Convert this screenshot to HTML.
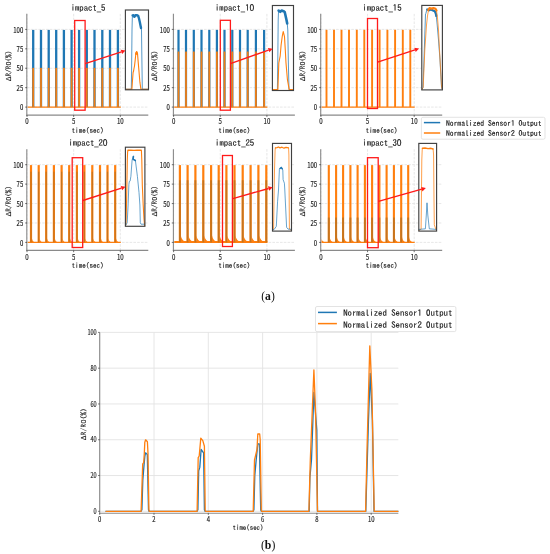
<!DOCTYPE html><html><head><meta charset="utf-8"><style>html,body{margin:0;padding:0;background:#fff;}svg{display:block}text{font-family:IPAGothic, 'Liberation Sans', sans-serif;}</style></head><body>
<svg width="550" height="554" viewBox="0 0 550 554">
<rect width="550" height="554" fill="#fff"/>
<line x1="27" x2="148.29" y1="107.1" y2="107.1" stroke="#e4e4e4" stroke-width="0.9" stroke-dasharray="2.6,1.2"/>
<line x1="27" x2="148.29" y1="87.67" y2="87.67" stroke="#e4e4e4" stroke-width="0.9" stroke-dasharray="2.6,1.2"/>
<line x1="27" x2="148.29" y1="68.25" y2="68.25" stroke="#e4e4e4" stroke-width="0.9" stroke-dasharray="2.6,1.2"/>
<line x1="27" x2="148.29" y1="48.82" y2="48.82" stroke="#e4e4e4" stroke-width="0.9" stroke-dasharray="2.6,1.2"/>
<line x1="27" x2="148.29" y1="29.4" y2="29.4" stroke="#e4e4e4" stroke-width="0.9" stroke-dasharray="2.6,1.2"/>
<line x1="27" x2="27" y1="13.86" y2="115.1" stroke="#e4e4e4" stroke-width="0.9" stroke-dasharray="2.6,1.2"/>
<line x1="73.65" x2="73.65" y1="13.86" y2="115.1" stroke="#e4e4e4" stroke-width="0.9" stroke-dasharray="2.6,1.2"/>
<line x1="120.3" x2="120.3" y1="13.86" y2="115.1" stroke="#e4e4e4" stroke-width="0.9" stroke-dasharray="2.6,1.2"/>
<line x1="27.65" x2="120.77" y1="107.1" y2="107.1" stroke="#ff7f0e" stroke-width="1.4"/>
<rect x="32.05" y="29.9" width="2.3" height="77.2" fill="#1f77b4"/>
<rect x="32.3" y="67.87" width="1.8" height="39.23" fill="#f07e14"/>
<rect x="39.85" y="29.9" width="2.3" height="77.2" fill="#1f77b4"/>
<rect x="40.1" y="67.87" width="1.8" height="39.23" fill="#f07e14"/>
<rect x="47.55" y="29.9" width="2.3" height="77.2" fill="#1f77b4"/>
<rect x="47.8" y="67.87" width="1.8" height="39.23" fill="#f07e14"/>
<rect x="55.05" y="29.9" width="2.3" height="77.2" fill="#1f77b4"/>
<rect x="55.3" y="67.87" width="1.8" height="39.23" fill="#f07e14"/>
<rect x="62.75" y="29.9" width="2.3" height="77.2" fill="#1f77b4"/>
<rect x="63" y="67.87" width="1.8" height="39.23" fill="#f07e14"/>
<rect x="70.45" y="29.9" width="2.3" height="77.2" fill="#1f77b4"/>
<rect x="70.7" y="67.87" width="1.8" height="39.23" fill="#f07e14"/>
<rect x="77.95" y="29.9" width="2.3" height="77.2" fill="#1f77b4"/>
<rect x="78.2" y="67.87" width="1.8" height="39.23" fill="#f07e14"/>
<rect x="85.65" y="29.9" width="2.3" height="77.2" fill="#1f77b4"/>
<rect x="85.9" y="67.87" width="1.8" height="39.23" fill="#f07e14"/>
<rect x="93.35" y="29.9" width="2.3" height="77.2" fill="#1f77b4"/>
<rect x="93.6" y="67.87" width="1.8" height="39.23" fill="#f07e14"/>
<rect x="101.15" y="29.9" width="2.3" height="77.2" fill="#1f77b4"/>
<rect x="101.4" y="67.87" width="1.8" height="39.23" fill="#f07e14"/>
<rect x="108.85" y="29.9" width="2.3" height="77.2" fill="#1f77b4"/>
<rect x="109.1" y="67.87" width="1.8" height="39.23" fill="#f07e14"/>
<rect x="116.75" y="29.9" width="2.3" height="77.2" fill="#1f77b4"/>
<rect x="117" y="67.87" width="1.8" height="39.23" fill="#f07e14"/>
<line x1="26.8" x2="26.8" y1="13.86" y2="115.65" stroke="#8a8a8a" stroke-width="1.1"/>
<line x1="26.25" x2="148.29" y1="115.1" y2="115.1" stroke="#8a8a8a" stroke-width="1.1"/>
<line x1="25.2" x2="27" y1="107.1" y2="107.1" stroke="#333" stroke-width="0.7"/>
<text x="23.3" y="110.2" font-size="8.1" text-anchor="end" textLength="3.35" lengthAdjust="spacingAndGlyphs" style="font-family:'Noto Sans CJK SC',sans-serif" stroke="#1a1a1a" stroke-width="0.15" fill="#1a1a1a">0</text>
<line x1="25.2" x2="27" y1="87.67" y2="87.67" stroke="#333" stroke-width="0.7"/>
<text x="23.3" y="90.77" font-size="8.1" text-anchor="end" textLength="6.7" lengthAdjust="spacingAndGlyphs" style="font-family:'Noto Sans CJK SC',sans-serif" stroke="#1a1a1a" stroke-width="0.15" fill="#1a1a1a">25</text>
<line x1="25.2" x2="27" y1="68.25" y2="68.25" stroke="#333" stroke-width="0.7"/>
<text x="23.3" y="71.35" font-size="8.1" text-anchor="end" textLength="6.7" lengthAdjust="spacingAndGlyphs" style="font-family:'Noto Sans CJK SC',sans-serif" stroke="#1a1a1a" stroke-width="0.15" fill="#1a1a1a">50</text>
<line x1="25.2" x2="27" y1="48.82" y2="48.82" stroke="#333" stroke-width="0.7"/>
<text x="23.3" y="51.92" font-size="8.1" text-anchor="end" textLength="6.7" lengthAdjust="spacingAndGlyphs" style="font-family:'Noto Sans CJK SC',sans-serif" stroke="#1a1a1a" stroke-width="0.15" fill="#1a1a1a">75</text>
<line x1="25.2" x2="27" y1="29.4" y2="29.4" stroke="#333" stroke-width="0.7"/>
<text x="23.3" y="32.5" font-size="8.1" text-anchor="end" textLength="10.05" lengthAdjust="spacingAndGlyphs" style="font-family:'Noto Sans CJK SC',sans-serif" stroke="#1a1a1a" stroke-width="0.15" fill="#1a1a1a">100</text>
<line x1="27" x2="27" y1="115.1" y2="116.9" stroke="#333" stroke-width="0.7"/>
<text x="27" y="124.3" font-size="8.1" text-anchor="middle" textLength="3.4" lengthAdjust="spacingAndGlyphs" style="font-family:'Noto Sans CJK SC',sans-serif" stroke="#1a1a1a" stroke-width="0.15" fill="#1a1a1a">0</text>
<line x1="73.65" x2="73.65" y1="115.1" y2="116.9" stroke="#333" stroke-width="0.7"/>
<text x="73.65" y="124.3" font-size="8.1" text-anchor="middle" textLength="3.4" lengthAdjust="spacingAndGlyphs" style="font-family:'Noto Sans CJK SC',sans-serif" stroke="#1a1a1a" stroke-width="0.15" fill="#1a1a1a">5</text>
<line x1="120.3" x2="120.3" y1="115.1" y2="116.9" stroke="#333" stroke-width="0.7"/>
<text x="120.3" y="124.3" font-size="8.1" text-anchor="middle" textLength="6.8" lengthAdjust="spacingAndGlyphs" style="font-family:'Noto Sans CJK SC',sans-serif" stroke="#1a1a1a" stroke-width="0.15" fill="#1a1a1a">10</text>
<text x="87.65" y="132.6" font-size="7.1" text-anchor="middle" textLength="32.2" lengthAdjust="spacingAndGlyphs" stroke="#1a1a1a" stroke-width="0.15" fill="#1a1a1a">time(sec)</text>
<text x="0" y="0" font-size="7.2" text-anchor="middle" textLength="30.5" lengthAdjust="spacing" transform="translate(10.8,65.98) rotate(-90)" stroke="#1a1a1a" stroke-width="0.15" fill="#1a1a1a"><tspan style="font-family:'Liberation Sans',sans-serif">Δ</tspan>R/R<tspan style="font-family:'Liberation Sans',sans-serif">0</tspan>(%)</text>
<text x="88.05" y="10.86" font-size="8.8" text-anchor="middle" textLength="34.8" lengthAdjust="spacingAndGlyphs" stroke="#111" stroke-width="0.15" fill="#111">impact_5</text>
<rect x="74.7" y="20.5" width="10.4" height="89.7" fill="none" stroke="#ff1a1a" stroke-width="1.3"/>
<rect x="125.4" y="10" width="23.1" height="79.8" fill="#fff"/>
<polyline fill="none" stroke="#1f77b4" stroke-width="1.0" stroke-opacity="0.75" stroke-linejoin="round" stroke-linecap="round" points="125.6,89.2 131.3,89.2 131.6,70 132,30 132.3,18 132.6,15.5"/>
<polyline fill="none" stroke="#1f77b4" stroke-width="2.4" stroke-linejoin="round" stroke-linecap="round" points="132.6,15.4 133.4,15.2 134.4,16.8 135.4,15.3 136.8,15.2 138.2,15.8 139,18.5 139.8,22 140.5,25.5 141,28"/>
<polyline fill="none" stroke="#1f77b4" stroke-width="1.0" stroke-opacity="0.75" stroke-linejoin="round" stroke-linecap="round" points="141,27 141.5,30 141.9,60 142.3,89.2 148.3,89.2"/>
<polyline fill="none" stroke="#ff7f0e" stroke-width="1.1" stroke-linejoin="round" stroke-linecap="round" points="125.6,89.2 131.9,89.2 132.3,83 133.1,72.5 133.6,71 133.9,69 134.5,66 135.2,60 135.9,53 136.7,51.5 137.5,53.6 138.7,67.9 139.9,82.2 140.9,89.2 148.3,89.2"/>
<polyline fill="none" stroke="#ff7f0e" stroke-width="1.8" stroke-linejoin="round" stroke-linecap="round" points="135.9,54 136.6,52.3 137.2,54"/>
<rect x="125.4" y="10" width="23.1" height="79.8" fill="none" stroke="#404040" stroke-width="1.15"/>
<line x1="85.2" y1="63.6" x2="121.41" y2="51.83" stroke="#ff1a1a" stroke-width="1.4"/>
<polygon fill="#ff1a1a" points="125.5,50.5 122.12,54.02 120.7,49.64"/>
<line x1="173.6" x2="294.89" y1="107.1" y2="107.1" stroke="#e4e4e4" stroke-width="0.9" stroke-dasharray="2.6,1.2"/>
<line x1="173.6" x2="294.89" y1="87.67" y2="87.67" stroke="#e4e4e4" stroke-width="0.9" stroke-dasharray="2.6,1.2"/>
<line x1="173.6" x2="294.89" y1="68.25" y2="68.25" stroke="#e4e4e4" stroke-width="0.9" stroke-dasharray="2.6,1.2"/>
<line x1="173.6" x2="294.89" y1="48.82" y2="48.82" stroke="#e4e4e4" stroke-width="0.9" stroke-dasharray="2.6,1.2"/>
<line x1="173.6" x2="294.89" y1="29.4" y2="29.4" stroke="#e4e4e4" stroke-width="0.9" stroke-dasharray="2.6,1.2"/>
<line x1="173.6" x2="173.6" y1="13.86" y2="115.1" stroke="#e4e4e4" stroke-width="0.9" stroke-dasharray="2.6,1.2"/>
<line x1="220.25" x2="220.25" y1="13.86" y2="115.1" stroke="#e4e4e4" stroke-width="0.9" stroke-dasharray="2.6,1.2"/>
<line x1="266.9" x2="266.9" y1="13.86" y2="115.1" stroke="#e4e4e4" stroke-width="0.9" stroke-dasharray="2.6,1.2"/>
<line x1="174.25" x2="267.37" y1="107.1" y2="107.1" stroke="#ff7f0e" stroke-width="1.4"/>
<rect x="177.4" y="29.9" width="2.2" height="77.2" fill="#1f77b4"/>
<rect x="177.6" y="51.56" width="1.8" height="55.54" fill="#f07e14"/>
<rect x="184.9" y="29.9" width="2.2" height="77.2" fill="#1f77b4"/>
<rect x="185.1" y="51.56" width="1.8" height="55.54" fill="#f07e14"/>
<rect x="192.7" y="29.9" width="2.2" height="77.2" fill="#1f77b4"/>
<rect x="192.9" y="51.56" width="1.8" height="55.54" fill="#f07e14"/>
<rect x="200.4" y="29.9" width="2.2" height="77.2" fill="#1f77b4"/>
<rect x="200.6" y="51.56" width="1.8" height="55.54" fill="#f07e14"/>
<rect x="208.2" y="29.9" width="2.2" height="77.2" fill="#1f77b4"/>
<rect x="208.4" y="51.56" width="1.8" height="55.54" fill="#f07e14"/>
<rect x="215.8" y="29.9" width="2.2" height="77.2" fill="#1f77b4"/>
<rect x="216" y="51.56" width="1.8" height="55.54" fill="#f07e14"/>
<rect x="223.4" y="29.9" width="2.2" height="77.2" fill="#1f77b4"/>
<rect x="223.6" y="51.56" width="1.8" height="55.54" fill="#f07e14"/>
<rect x="231.2" y="29.9" width="2.2" height="77.2" fill="#1f77b4"/>
<rect x="231.4" y="51.56" width="1.8" height="55.54" fill="#f07e14"/>
<rect x="238.9" y="29.9" width="2.2" height="77.2" fill="#1f77b4"/>
<rect x="239.1" y="51.56" width="1.8" height="55.54" fill="#f07e14"/>
<rect x="246.6" y="29.9" width="2.2" height="77.2" fill="#1f77b4"/>
<rect x="246.8" y="51.56" width="1.8" height="55.54" fill="#f07e14"/>
<rect x="254.8" y="29.9" width="2.2" height="77.2" fill="#1f77b4"/>
<rect x="255" y="51.56" width="1.8" height="55.54" fill="#f07e14"/>
<rect x="263" y="29.9" width="2.2" height="77.2" fill="#1f77b4"/>
<rect x="263.2" y="51.56" width="1.8" height="55.54" fill="#f07e14"/>
<line x1="173.4" x2="173.4" y1="13.86" y2="115.65" stroke="#8a8a8a" stroke-width="1.1"/>
<line x1="172.85" x2="294.89" y1="115.1" y2="115.1" stroke="#8a8a8a" stroke-width="1.1"/>
<line x1="171.8" x2="173.6" y1="107.1" y2="107.1" stroke="#333" stroke-width="0.7"/>
<text x="169.9" y="110.2" font-size="8.1" text-anchor="end" textLength="3.35" lengthAdjust="spacingAndGlyphs" style="font-family:'Noto Sans CJK SC',sans-serif" stroke="#1a1a1a" stroke-width="0.15" fill="#1a1a1a">0</text>
<line x1="171.8" x2="173.6" y1="87.67" y2="87.67" stroke="#333" stroke-width="0.7"/>
<text x="169.9" y="90.77" font-size="8.1" text-anchor="end" textLength="6.7" lengthAdjust="spacingAndGlyphs" style="font-family:'Noto Sans CJK SC',sans-serif" stroke="#1a1a1a" stroke-width="0.15" fill="#1a1a1a">25</text>
<line x1="171.8" x2="173.6" y1="68.25" y2="68.25" stroke="#333" stroke-width="0.7"/>
<text x="169.9" y="71.35" font-size="8.1" text-anchor="end" textLength="6.7" lengthAdjust="spacingAndGlyphs" style="font-family:'Noto Sans CJK SC',sans-serif" stroke="#1a1a1a" stroke-width="0.15" fill="#1a1a1a">50</text>
<line x1="171.8" x2="173.6" y1="48.82" y2="48.82" stroke="#333" stroke-width="0.7"/>
<text x="169.9" y="51.92" font-size="8.1" text-anchor="end" textLength="6.7" lengthAdjust="spacingAndGlyphs" style="font-family:'Noto Sans CJK SC',sans-serif" stroke="#1a1a1a" stroke-width="0.15" fill="#1a1a1a">75</text>
<line x1="171.8" x2="173.6" y1="29.4" y2="29.4" stroke="#333" stroke-width="0.7"/>
<text x="169.9" y="32.5" font-size="8.1" text-anchor="end" textLength="10.05" lengthAdjust="spacingAndGlyphs" style="font-family:'Noto Sans CJK SC',sans-serif" stroke="#1a1a1a" stroke-width="0.15" fill="#1a1a1a">100</text>
<line x1="173.6" x2="173.6" y1="115.1" y2="116.9" stroke="#333" stroke-width="0.7"/>
<text x="173.6" y="124.3" font-size="8.1" text-anchor="middle" textLength="3.4" lengthAdjust="spacingAndGlyphs" style="font-family:'Noto Sans CJK SC',sans-serif" stroke="#1a1a1a" stroke-width="0.15" fill="#1a1a1a">0</text>
<line x1="220.25" x2="220.25" y1="115.1" y2="116.9" stroke="#333" stroke-width="0.7"/>
<text x="220.25" y="124.3" font-size="8.1" text-anchor="middle" textLength="3.4" lengthAdjust="spacingAndGlyphs" style="font-family:'Noto Sans CJK SC',sans-serif" stroke="#1a1a1a" stroke-width="0.15" fill="#1a1a1a">5</text>
<line x1="266.9" x2="266.9" y1="115.1" y2="116.9" stroke="#333" stroke-width="0.7"/>
<text x="266.9" y="124.3" font-size="8.1" text-anchor="middle" textLength="6.8" lengthAdjust="spacingAndGlyphs" style="font-family:'Noto Sans CJK SC',sans-serif" stroke="#1a1a1a" stroke-width="0.15" fill="#1a1a1a">10</text>
<text x="234.25" y="132.6" font-size="7.1" text-anchor="middle" textLength="32.2" lengthAdjust="spacingAndGlyphs" stroke="#1a1a1a" stroke-width="0.15" fill="#1a1a1a">time(sec)</text>
<text x="0" y="0" font-size="7.2" text-anchor="middle" textLength="30.5" lengthAdjust="spacing" transform="translate(157.4,65.98) rotate(-90)" stroke="#1a1a1a" stroke-width="0.15" fill="#1a1a1a"><tspan style="font-family:'Liberation Sans',sans-serif">Δ</tspan>R/R<tspan style="font-family:'Liberation Sans',sans-serif">0</tspan>(%)</text>
<text x="234.65" y="10.86" font-size="8.8" text-anchor="middle" textLength="39.15" lengthAdjust="spacingAndGlyphs" stroke="#111" stroke-width="0.15" fill="#111">impact_1<tspan style="font-family:'Noto Sans CJK SC',sans-serif">0</tspan></text>
<rect x="220.3" y="20.3" width="10.1" height="89.9" fill="none" stroke="#ff1a1a" stroke-width="1.3"/>
<rect x="272.4" y="5.5" width="21.1" height="85" fill="#fff"/>
<polyline fill="none" stroke="#1f77b4" stroke-width="1.0" stroke-opacity="0.75" stroke-linejoin="round" stroke-linecap="round" points="272.6,89.6 277.4,89.6 277.8,60 278.2,20 278.5,12"/>
<polyline fill="none" stroke="#1f77b4" stroke-width="2.6" stroke-linejoin="round" stroke-linecap="round" points="278.6,10.6 280.2,11.8 281.7,10.6 283.5,11.2 284.7,12 285.5,15.5 286.4,19.5 287.2,23.5"/>
<polyline fill="none" stroke="#1f77b4" stroke-width="1.0" stroke-opacity="0.75" stroke-linejoin="round" stroke-linecap="round" points="287.2,23 287.8,30 288.3,60 289,89.6 293.3,89.6"/>
<polyline fill="none" stroke="#ff7f0e" stroke-width="1.1" stroke-linejoin="round" stroke-linecap="round" points="272.6,89.6 277.9,89.6 278.8,63 280.2,55.8 281.1,45 282.3,36 283.2,31.5 284.5,36.7 285.3,50 286,63 287.4,79.3 289.2,89.6 293.3,89.6"/>
<rect x="272.4" y="5.5" width="21.1" height="85" fill="none" stroke="#404040" stroke-width="1.15"/>
<line x1="230.4" y1="63.6" x2="268.64" y2="50.13" stroke="#ff1a1a" stroke-width="1.4"/>
<polygon fill="#ff1a1a" points="272.7,48.7 269.41,52.3 267.88,47.96"/>
<line x1="320.9" x2="442.19" y1="107.1" y2="107.1" stroke="#e4e4e4" stroke-width="0.9" stroke-dasharray="2.6,1.2"/>
<line x1="320.9" x2="442.19" y1="87.67" y2="87.67" stroke="#e4e4e4" stroke-width="0.9" stroke-dasharray="2.6,1.2"/>
<line x1="320.9" x2="442.19" y1="68.25" y2="68.25" stroke="#e4e4e4" stroke-width="0.9" stroke-dasharray="2.6,1.2"/>
<line x1="320.9" x2="442.19" y1="48.82" y2="48.82" stroke="#e4e4e4" stroke-width="0.9" stroke-dasharray="2.6,1.2"/>
<line x1="320.9" x2="442.19" y1="29.4" y2="29.4" stroke="#e4e4e4" stroke-width="0.9" stroke-dasharray="2.6,1.2"/>
<line x1="320.9" x2="320.9" y1="13.86" y2="115.1" stroke="#e4e4e4" stroke-width="0.9" stroke-dasharray="2.6,1.2"/>
<line x1="367.55" x2="367.55" y1="13.86" y2="115.1" stroke="#e4e4e4" stroke-width="0.9" stroke-dasharray="2.6,1.2"/>
<line x1="414.2" x2="414.2" y1="13.86" y2="115.1" stroke="#e4e4e4" stroke-width="0.9" stroke-dasharray="2.6,1.2"/>
<line x1="321.55" x2="414.67" y1="107.1" y2="107.1" stroke="#ff7f0e" stroke-width="1.4"/>
<rect x="325.55" y="29.8" width="1.9" height="77.3" fill="#ff7f0e"/>
<rect x="333.05" y="29.8" width="1.9" height="77.3" fill="#ff7f0e"/>
<rect x="340.55" y="29.8" width="1.9" height="77.3" fill="#ff7f0e"/>
<rect x="348.05" y="29.8" width="1.9" height="77.3" fill="#ff7f0e"/>
<rect x="355.85" y="29.8" width="1.9" height="77.3" fill="#ff7f0e"/>
<rect x="363.35" y="29.8" width="1.9" height="77.3" fill="#ff7f0e"/>
<rect x="371.15" y="29.8" width="1.9" height="77.3" fill="#ff7f0e"/>
<rect x="378.65" y="29.8" width="1.9" height="77.3" fill="#ff7f0e"/>
<rect x="386.45" y="29.8" width="1.9" height="77.3" fill="#ff7f0e"/>
<rect x="394.15" y="29.8" width="1.9" height="77.3" fill="#ff7f0e"/>
<rect x="401.85" y="29.8" width="1.9" height="77.3" fill="#ff7f0e"/>
<rect x="409.35" y="29.8" width="1.9" height="77.3" fill="#ff7f0e"/>
<line x1="320.7" x2="320.7" y1="13.86" y2="115.65" stroke="#8a8a8a" stroke-width="1.1"/>
<line x1="320.15" x2="442.19" y1="115.1" y2="115.1" stroke="#8a8a8a" stroke-width="1.1"/>
<line x1="319.1" x2="320.9" y1="107.1" y2="107.1" stroke="#333" stroke-width="0.7"/>
<text x="317.2" y="110.2" font-size="8.1" text-anchor="end" textLength="3.35" lengthAdjust="spacingAndGlyphs" style="font-family:'Noto Sans CJK SC',sans-serif" stroke="#1a1a1a" stroke-width="0.15" fill="#1a1a1a">0</text>
<line x1="319.1" x2="320.9" y1="87.67" y2="87.67" stroke="#333" stroke-width="0.7"/>
<text x="317.2" y="90.77" font-size="8.1" text-anchor="end" textLength="6.7" lengthAdjust="spacingAndGlyphs" style="font-family:'Noto Sans CJK SC',sans-serif" stroke="#1a1a1a" stroke-width="0.15" fill="#1a1a1a">25</text>
<line x1="319.1" x2="320.9" y1="68.25" y2="68.25" stroke="#333" stroke-width="0.7"/>
<text x="317.2" y="71.35" font-size="8.1" text-anchor="end" textLength="6.7" lengthAdjust="spacingAndGlyphs" style="font-family:'Noto Sans CJK SC',sans-serif" stroke="#1a1a1a" stroke-width="0.15" fill="#1a1a1a">50</text>
<line x1="319.1" x2="320.9" y1="48.82" y2="48.82" stroke="#333" stroke-width="0.7"/>
<text x="317.2" y="51.92" font-size="8.1" text-anchor="end" textLength="6.7" lengthAdjust="spacingAndGlyphs" style="font-family:'Noto Sans CJK SC',sans-serif" stroke="#1a1a1a" stroke-width="0.15" fill="#1a1a1a">75</text>
<line x1="319.1" x2="320.9" y1="29.4" y2="29.4" stroke="#333" stroke-width="0.7"/>
<text x="317.2" y="32.5" font-size="8.1" text-anchor="end" textLength="10.05" lengthAdjust="spacingAndGlyphs" style="font-family:'Noto Sans CJK SC',sans-serif" stroke="#1a1a1a" stroke-width="0.15" fill="#1a1a1a">100</text>
<line x1="320.9" x2="320.9" y1="115.1" y2="116.9" stroke="#333" stroke-width="0.7"/>
<text x="320.9" y="124.3" font-size="8.1" text-anchor="middle" textLength="3.4" lengthAdjust="spacingAndGlyphs" style="font-family:'Noto Sans CJK SC',sans-serif" stroke="#1a1a1a" stroke-width="0.15" fill="#1a1a1a">0</text>
<line x1="367.55" x2="367.55" y1="115.1" y2="116.9" stroke="#333" stroke-width="0.7"/>
<text x="367.55" y="124.3" font-size="8.1" text-anchor="middle" textLength="3.4" lengthAdjust="spacingAndGlyphs" style="font-family:'Noto Sans CJK SC',sans-serif" stroke="#1a1a1a" stroke-width="0.15" fill="#1a1a1a">5</text>
<line x1="414.2" x2="414.2" y1="115.1" y2="116.9" stroke="#333" stroke-width="0.7"/>
<text x="414.2" y="124.3" font-size="8.1" text-anchor="middle" textLength="6.8" lengthAdjust="spacingAndGlyphs" style="font-family:'Noto Sans CJK SC',sans-serif" stroke="#1a1a1a" stroke-width="0.15" fill="#1a1a1a">10</text>
<text x="381.54" y="132.6" font-size="7.1" text-anchor="middle" textLength="32.2" lengthAdjust="spacingAndGlyphs" stroke="#1a1a1a" stroke-width="0.15" fill="#1a1a1a">time(sec)</text>
<text x="0" y="0" font-size="7.2" text-anchor="middle" textLength="30.5" lengthAdjust="spacing" transform="translate(304.7,65.98) rotate(-90)" stroke="#1a1a1a" stroke-width="0.15" fill="#1a1a1a"><tspan style="font-family:'Liberation Sans',sans-serif">Δ</tspan>R/R<tspan style="font-family:'Liberation Sans',sans-serif">0</tspan>(%)</text>
<text x="381.94" y="10.86" font-size="8.8" text-anchor="middle" textLength="39.15" lengthAdjust="spacingAndGlyphs" stroke="#111" stroke-width="0.15" fill="#111">impact_15</text>
<rect x="367.5" y="18.5" width="10" height="90" fill="none" stroke="#ff1a1a" stroke-width="1.3"/>
<rect x="421.8" y="5.4" width="20.6" height="84.5" fill="#fff"/>
<polyline fill="none" stroke="#1f77b4" stroke-width="1.0" stroke-opacity="0.75" stroke-linejoin="round" stroke-linecap="round" points="422.2,89.2 423,87.3 424.3,50 425.3,20 425.5,14 425.9,13.4 426.5,11 427.2,9.5"/>
<polyline fill="none" stroke="#1f77b4" stroke-width="2.2" stroke-linejoin="round" stroke-linecap="round" points="427.2,9.4 429,10.3 431,9.4 433,10.4 434.8,11.2 435.8,13.5 436.3,16"/>
<polyline fill="none" stroke="#1f77b4" stroke-width="1.0" stroke-opacity="0.75" stroke-linejoin="round" stroke-linecap="round" points="436.3,16 437.2,25 438.5,40 440,60 441.5,87.3 442.2,89.2"/>
<polyline fill="none" stroke="#ff7f0e" stroke-width="1.0" stroke-opacity="0.75" stroke-linejoin="round" stroke-linecap="round" points="422.2,89.2 423.2,87.3 424.8,50 426.5,25 427.5,16 428.4,10.5"/>
<polyline fill="none" stroke="#ff7f0e" stroke-width="2.2" stroke-linejoin="round" stroke-linecap="round" points="428.3,10 429.5,8.2 431.5,8.6 433.5,8.1 435.5,8.8 436.5,10.5"/>
<polyline fill="none" stroke="#ff7f0e" stroke-width="1.0" stroke-opacity="0.75" stroke-linejoin="round" stroke-linecap="round" points="436.5,10.5 437.5,18 438.5,30 439.5,50 441.6,87.3 442.2,89.2"/>
<rect x="421.8" y="5.4" width="20.6" height="84.5" fill="none" stroke="#404040" stroke-width="1.15"/>
<line x1="377.6" y1="62.2" x2="415.01" y2="49.94" stroke="#ff1a1a" stroke-width="1.4"/>
<polygon fill="#ff1a1a" points="419.1,48.6 415.73,52.12 414.3,47.75"/>
<line x1="27" x2="148.29" y1="242.4" y2="242.4" stroke="#e4e4e4" stroke-width="0.9" stroke-dasharray="2.6,1.2"/>
<line x1="27" x2="148.29" y1="222.97" y2="222.97" stroke="#e4e4e4" stroke-width="0.9" stroke-dasharray="2.6,1.2"/>
<line x1="27" x2="148.29" y1="203.55" y2="203.55" stroke="#e4e4e4" stroke-width="0.9" stroke-dasharray="2.6,1.2"/>
<line x1="27" x2="148.29" y1="184.12" y2="184.12" stroke="#e4e4e4" stroke-width="0.9" stroke-dasharray="2.6,1.2"/>
<line x1="27" x2="148.29" y1="164.7" y2="164.7" stroke="#e4e4e4" stroke-width="0.9" stroke-dasharray="2.6,1.2"/>
<line x1="27" x2="27" y1="149.16" y2="250.4" stroke="#e4e4e4" stroke-width="0.9" stroke-dasharray="2.6,1.2"/>
<line x1="73.65" x2="73.65" y1="149.16" y2="250.4" stroke="#e4e4e4" stroke-width="0.9" stroke-dasharray="2.6,1.2"/>
<line x1="120.3" x2="120.3" y1="149.16" y2="250.4" stroke="#e4e4e4" stroke-width="0.9" stroke-dasharray="2.6,1.2"/>
<line x1="27.65" x2="120.77" y1="242.4" y2="242.4" stroke="#ff7f0e" stroke-width="1.4"/>
<path d="M31.9,238.6 Q32.32,241.83 34.7,242.4 L31.9,242.4 Z" fill="#ff7f0e"/>
<rect x="29.9" y="165.1" width="2.2" height="77.3" fill="#ff7f0e"/>
<rect x="30.4" y="171.69" width="1.2" height="70.71" fill="#c4741f"/>
<path d="M39.6,238.6 Q40.02,241.83 42.4,242.4 L39.6,242.4 Z" fill="#ff7f0e"/>
<rect x="37.6" y="165.1" width="2.2" height="77.3" fill="#ff7f0e"/>
<rect x="38.1" y="171.69" width="1.2" height="70.71" fill="#c4741f"/>
<path d="M47.1,238.6 Q47.52,241.83 49.9,242.4 L47.1,242.4 Z" fill="#ff7f0e"/>
<rect x="45.1" y="165.1" width="2.2" height="77.3" fill="#ff7f0e"/>
<rect x="45.6" y="171.69" width="1.2" height="70.71" fill="#c4741f"/>
<path d="M54.8,238.6 Q55.22,241.83 57.6,242.4 L54.8,242.4 Z" fill="#ff7f0e"/>
<rect x="52.8" y="165.1" width="2.2" height="77.3" fill="#ff7f0e"/>
<rect x="53.3" y="171.69" width="1.2" height="70.71" fill="#c4741f"/>
<path d="M62.5,238.6 Q62.92,241.83 65.3,242.4 L62.5,242.4 Z" fill="#ff7f0e"/>
<rect x="60.5" y="165.1" width="2.2" height="77.3" fill="#ff7f0e"/>
<rect x="61" y="171.69" width="1.2" height="70.71" fill="#c4741f"/>
<path d="M70.1,238.6 Q70.52,241.83 72.9,242.4 L70.1,242.4 Z" fill="#ff7f0e"/>
<rect x="68.1" y="165.1" width="2.2" height="77.3" fill="#ff7f0e"/>
<rect x="68.6" y="171.69" width="1.2" height="70.71" fill="#c4741f"/>
<path d="M77.8,238.6 Q78.22,241.83 80.6,242.4 L77.8,242.4 Z" fill="#ff7f0e"/>
<rect x="75.8" y="165.1" width="2.2" height="77.3" fill="#ff7f0e"/>
<rect x="76.3" y="171.69" width="1.2" height="70.71" fill="#c4741f"/>
<path d="M85.3,238.6 Q85.72,241.83 88.1,242.4 L85.3,242.4 Z" fill="#ff7f0e"/>
<rect x="83.3" y="165.1" width="2.2" height="77.3" fill="#ff7f0e"/>
<rect x="83.8" y="171.69" width="1.2" height="70.71" fill="#c4741f"/>
<path d="M93.2,238.6 Q93.62,241.83 96,242.4 L93.2,242.4 Z" fill="#ff7f0e"/>
<rect x="91.2" y="165.1" width="2.2" height="77.3" fill="#ff7f0e"/>
<rect x="91.7" y="171.69" width="1.2" height="70.71" fill="#c4741f"/>
<path d="M100.9,238.6 Q101.32,241.83 103.7,242.4 L100.9,242.4 Z" fill="#ff7f0e"/>
<rect x="98.9" y="165.1" width="2.2" height="77.3" fill="#ff7f0e"/>
<rect x="99.4" y="171.69" width="1.2" height="70.71" fill="#c4741f"/>
<path d="M108.4,238.6 Q108.82,241.83 111.2,242.4 L108.4,242.4 Z" fill="#ff7f0e"/>
<rect x="106.4" y="165.1" width="2.2" height="77.3" fill="#ff7f0e"/>
<rect x="106.9" y="171.69" width="1.2" height="70.71" fill="#c4741f"/>
<path d="M116.1,238.6 Q116.52,241.83 118.9,242.4 L116.1,242.4 Z" fill="#ff7f0e"/>
<rect x="114.1" y="165.1" width="2.2" height="77.3" fill="#ff7f0e"/>
<rect x="114.6" y="171.69" width="1.2" height="70.71" fill="#c4741f"/>
<line x1="26.8" x2="26.8" y1="149.16" y2="250.95" stroke="#8a8a8a" stroke-width="1.1"/>
<line x1="26.25" x2="148.29" y1="250.4" y2="250.4" stroke="#8a8a8a" stroke-width="1.1"/>
<line x1="25.2" x2="27" y1="242.4" y2="242.4" stroke="#333" stroke-width="0.7"/>
<text x="23.3" y="245.5" font-size="8.1" text-anchor="end" textLength="3.35" lengthAdjust="spacingAndGlyphs" style="font-family:'Noto Sans CJK SC',sans-serif" stroke="#1a1a1a" stroke-width="0.15" fill="#1a1a1a">0</text>
<line x1="25.2" x2="27" y1="222.97" y2="222.97" stroke="#333" stroke-width="0.7"/>
<text x="23.3" y="226.07" font-size="8.1" text-anchor="end" textLength="6.7" lengthAdjust="spacingAndGlyphs" style="font-family:'Noto Sans CJK SC',sans-serif" stroke="#1a1a1a" stroke-width="0.15" fill="#1a1a1a">25</text>
<line x1="25.2" x2="27" y1="203.55" y2="203.55" stroke="#333" stroke-width="0.7"/>
<text x="23.3" y="206.65" font-size="8.1" text-anchor="end" textLength="6.7" lengthAdjust="spacingAndGlyphs" style="font-family:'Noto Sans CJK SC',sans-serif" stroke="#1a1a1a" stroke-width="0.15" fill="#1a1a1a">50</text>
<line x1="25.2" x2="27" y1="184.12" y2="184.12" stroke="#333" stroke-width="0.7"/>
<text x="23.3" y="187.22" font-size="8.1" text-anchor="end" textLength="6.7" lengthAdjust="spacingAndGlyphs" style="font-family:'Noto Sans CJK SC',sans-serif" stroke="#1a1a1a" stroke-width="0.15" fill="#1a1a1a">75</text>
<line x1="25.2" x2="27" y1="164.7" y2="164.7" stroke="#333" stroke-width="0.7"/>
<text x="23.3" y="167.8" font-size="8.1" text-anchor="end" textLength="10.05" lengthAdjust="spacingAndGlyphs" style="font-family:'Noto Sans CJK SC',sans-serif" stroke="#1a1a1a" stroke-width="0.15" fill="#1a1a1a">100</text>
<line x1="27" x2="27" y1="250.4" y2="252.2" stroke="#333" stroke-width="0.7"/>
<text x="27" y="259.6" font-size="8.1" text-anchor="middle" textLength="3.4" lengthAdjust="spacingAndGlyphs" style="font-family:'Noto Sans CJK SC',sans-serif" stroke="#1a1a1a" stroke-width="0.15" fill="#1a1a1a">0</text>
<line x1="73.65" x2="73.65" y1="250.4" y2="252.2" stroke="#333" stroke-width="0.7"/>
<text x="73.65" y="259.6" font-size="8.1" text-anchor="middle" textLength="3.4" lengthAdjust="spacingAndGlyphs" style="font-family:'Noto Sans CJK SC',sans-serif" stroke="#1a1a1a" stroke-width="0.15" fill="#1a1a1a">5</text>
<line x1="120.3" x2="120.3" y1="250.4" y2="252.2" stroke="#333" stroke-width="0.7"/>
<text x="120.3" y="259.6" font-size="8.1" text-anchor="middle" textLength="6.8" lengthAdjust="spacingAndGlyphs" style="font-family:'Noto Sans CJK SC',sans-serif" stroke="#1a1a1a" stroke-width="0.15" fill="#1a1a1a">10</text>
<text x="87.65" y="267.9" font-size="7.1" text-anchor="middle" textLength="32.2" lengthAdjust="spacingAndGlyphs" stroke="#1a1a1a" stroke-width="0.15" fill="#1a1a1a">time(sec)</text>
<text x="0" y="0" font-size="7.2" text-anchor="middle" textLength="30.5" lengthAdjust="spacing" transform="translate(10.8,201.28) rotate(-90)" stroke="#1a1a1a" stroke-width="0.15" fill="#1a1a1a"><tspan style="font-family:'Liberation Sans',sans-serif">Δ</tspan>R/R<tspan style="font-family:'Liberation Sans',sans-serif">0</tspan>(%)</text>
<text x="88.05" y="146.16" font-size="8.8" text-anchor="middle" textLength="39.15" lengthAdjust="spacingAndGlyphs" stroke="#111" stroke-width="0.15" fill="#111">impact_2<tspan style="font-family:'Noto Sans CJK SC',sans-serif">0</tspan></text>
<rect x="72.2" y="157.7" width="10.5" height="89.8" fill="none" stroke="#ff1a1a" stroke-width="1.3"/>
<rect x="125.4" y="147.2" width="19.5" height="79.1" fill="#fff"/>
<polyline fill="none" stroke="#ff7f0e" stroke-width="1.1" stroke-linejoin="round" stroke-linecap="round" points="125.7,225.5 126,223.5 126.6,200 127.3,160 127.6,152 128,150.3"/>
<polyline fill="none" stroke="#ff7f0e" stroke-width="1.4" stroke-linejoin="round" stroke-linecap="round" points="128,150.3 131,150.1 134,150.4 137,150.1 141.2,150.3"/>
<polyline fill="none" stroke="#ff7f0e" stroke-width="1.1" stroke-linejoin="round" stroke-linecap="round" points="141.4,150.5 141.8,160 142.3,185 143.2,205 144,219 144.6,225.5"/>
<polyline fill="none" stroke="#1f77b4" stroke-width="0.9" stroke-opacity="0.75" stroke-linejoin="round" stroke-linecap="round" points="125.7,225.3 127.2,222.8 128.1,205 128.9,184.4 129.3,181.6 130.1,181.1 130.9,176.3 132.1,160 133.4,156.2"/>
<polyline fill="none" stroke="#1f77b4" stroke-width="1.6" stroke-linejoin="round" stroke-linecap="round" points="133.4,156.5 133.1,159.5 134.3,159.8 135.3,160.5"/>
<polyline fill="none" stroke="#1f77b4" stroke-width="0.9" stroke-opacity="0.75" stroke-linejoin="round" stroke-linecap="round" points="135.4,160.5 137.4,176.3 139,192.5 139.9,205 140.3,222.8 141,224.2 144.6,224.2"/>
<rect x="125.4" y="147.2" width="19.5" height="79.1" fill="none" stroke="#404040" stroke-width="1.15"/>
<line x1="82.8" y1="200.5" x2="121.41" y2="188.11" stroke="#ff1a1a" stroke-width="1.4"/>
<polygon fill="#ff1a1a" points="125.5,186.8 122.11,190.3 120.7,185.92"/>
<line x1="173.6" x2="294.89" y1="242.4" y2="242.4" stroke="#e4e4e4" stroke-width="0.9" stroke-dasharray="2.6,1.2"/>
<line x1="173.6" x2="294.89" y1="222.97" y2="222.97" stroke="#e4e4e4" stroke-width="0.9" stroke-dasharray="2.6,1.2"/>
<line x1="173.6" x2="294.89" y1="203.55" y2="203.55" stroke="#e4e4e4" stroke-width="0.9" stroke-dasharray="2.6,1.2"/>
<line x1="173.6" x2="294.89" y1="184.12" y2="184.12" stroke="#e4e4e4" stroke-width="0.9" stroke-dasharray="2.6,1.2"/>
<line x1="173.6" x2="294.89" y1="164.7" y2="164.7" stroke="#e4e4e4" stroke-width="0.9" stroke-dasharray="2.6,1.2"/>
<line x1="173.6" x2="173.6" y1="149.16" y2="250.4" stroke="#e4e4e4" stroke-width="0.9" stroke-dasharray="2.6,1.2"/>
<line x1="220.25" x2="220.25" y1="149.16" y2="250.4" stroke="#e4e4e4" stroke-width="0.9" stroke-dasharray="2.6,1.2"/>
<line x1="266.9" x2="266.9" y1="149.16" y2="250.4" stroke="#e4e4e4" stroke-width="0.9" stroke-dasharray="2.6,1.2"/>
<line x1="174.25" x2="267.37" y1="242.1" y2="242.1" stroke="#ff7f0e" stroke-width="2.0"/>
<path d="M180.8,235.4 Q181.78,241.35 187.3,242.4 L180.8,242.4 Z" fill="#ff7f0e"/>
<rect x="178.8" y="165.1" width="2.2" height="77.3" fill="#ff7f0e"/>
<rect x="179.05" y="180.24" width="1.7" height="62.16" fill="#c4741f"/>
<path d="M188.5,235.4 Q189.47,241.35 195,242.4 L188.5,242.4 Z" fill="#ff7f0e"/>
<rect x="186.5" y="165.1" width="2.2" height="77.3" fill="#ff7f0e"/>
<rect x="186.75" y="180.24" width="1.7" height="62.16" fill="#c4741f"/>
<path d="M196.3,235.4 Q197.28,241.35 202.8,242.4 L196.3,242.4 Z" fill="#ff7f0e"/>
<rect x="194.3" y="165.1" width="2.2" height="77.3" fill="#ff7f0e"/>
<rect x="194.55" y="180.24" width="1.7" height="62.16" fill="#c4741f"/>
<path d="M204.2,235.4 Q205.18,241.35 210.7,242.4 L204.2,242.4 Z" fill="#ff7f0e"/>
<rect x="202.2" y="165.1" width="2.2" height="77.3" fill="#ff7f0e"/>
<rect x="202.45" y="180.24" width="1.7" height="62.16" fill="#c4741f"/>
<path d="M212,235.4 Q212.97,241.35 218.5,242.4 L212,242.4 Z" fill="#ff7f0e"/>
<rect x="210" y="165.1" width="2.2" height="77.3" fill="#ff7f0e"/>
<rect x="210.25" y="180.24" width="1.7" height="62.16" fill="#c4741f"/>
<path d="M219.6,235.4 Q220.57,241.35 226.1,242.4 L219.6,242.4 Z" fill="#ff7f0e"/>
<rect x="217.6" y="165.1" width="2.2" height="77.3" fill="#ff7f0e"/>
<rect x="217.85" y="180.24" width="1.7" height="62.16" fill="#c4741f"/>
<path d="M227.3,235.4 Q228.28,241.35 233.8,242.4 L227.3,242.4 Z" fill="#ff7f0e"/>
<rect x="225.3" y="165.1" width="2.2" height="77.3" fill="#ff7f0e"/>
<rect x="225.55" y="180.24" width="1.7" height="62.16" fill="#c4741f"/>
<path d="M235.4,235.4 Q236.38,241.35 241.9,242.4 L235.4,242.4 Z" fill="#ff7f0e"/>
<rect x="233.4" y="165.1" width="2.2" height="77.3" fill="#ff7f0e"/>
<rect x="233.65" y="180.24" width="1.7" height="62.16" fill="#c4741f"/>
<path d="M243.6,235.4 Q244.57,241.35 250.1,242.4 L243.6,242.4 Z" fill="#ff7f0e"/>
<rect x="241.6" y="165.1" width="2.2" height="77.3" fill="#ff7f0e"/>
<rect x="241.85" y="180.24" width="1.7" height="62.16" fill="#c4741f"/>
<path d="M251.5,235.4 Q252.47,241.35 258,242.4 L251.5,242.4 Z" fill="#ff7f0e"/>
<rect x="249.5" y="165.1" width="2.2" height="77.3" fill="#ff7f0e"/>
<rect x="249.75" y="180.24" width="1.7" height="62.16" fill="#c4741f"/>
<path d="M259.3,235.4 Q260.28,241.35 265.8,242.4 L259.3,242.4 Z" fill="#ff7f0e"/>
<rect x="257.3" y="165.1" width="2.2" height="77.3" fill="#ff7f0e"/>
<rect x="257.55" y="180.24" width="1.7" height="62.16" fill="#c4741f"/>
<rect x="265.2" y="165.1" width="2.2" height="77.3" fill="#ff7f0e"/>
<rect x="265.45" y="180.24" width="1.7" height="62.16" fill="#c4741f"/>
<line x1="173.4" x2="173.4" y1="149.16" y2="250.95" stroke="#8a8a8a" stroke-width="1.1"/>
<line x1="172.85" x2="294.89" y1="250.4" y2="250.4" stroke="#8a8a8a" stroke-width="1.1"/>
<line x1="171.8" x2="173.6" y1="242.4" y2="242.4" stroke="#333" stroke-width="0.7"/>
<text x="169.9" y="245.5" font-size="8.1" text-anchor="end" textLength="3.35" lengthAdjust="spacingAndGlyphs" style="font-family:'Noto Sans CJK SC',sans-serif" stroke="#1a1a1a" stroke-width="0.15" fill="#1a1a1a">0</text>
<line x1="171.8" x2="173.6" y1="222.97" y2="222.97" stroke="#333" stroke-width="0.7"/>
<text x="169.9" y="226.07" font-size="8.1" text-anchor="end" textLength="6.7" lengthAdjust="spacingAndGlyphs" style="font-family:'Noto Sans CJK SC',sans-serif" stroke="#1a1a1a" stroke-width="0.15" fill="#1a1a1a">25</text>
<line x1="171.8" x2="173.6" y1="203.55" y2="203.55" stroke="#333" stroke-width="0.7"/>
<text x="169.9" y="206.65" font-size="8.1" text-anchor="end" textLength="6.7" lengthAdjust="spacingAndGlyphs" style="font-family:'Noto Sans CJK SC',sans-serif" stroke="#1a1a1a" stroke-width="0.15" fill="#1a1a1a">50</text>
<line x1="171.8" x2="173.6" y1="184.12" y2="184.12" stroke="#333" stroke-width="0.7"/>
<text x="169.9" y="187.22" font-size="8.1" text-anchor="end" textLength="6.7" lengthAdjust="spacingAndGlyphs" style="font-family:'Noto Sans CJK SC',sans-serif" stroke="#1a1a1a" stroke-width="0.15" fill="#1a1a1a">75</text>
<line x1="171.8" x2="173.6" y1="164.7" y2="164.7" stroke="#333" stroke-width="0.7"/>
<text x="169.9" y="167.8" font-size="8.1" text-anchor="end" textLength="10.05" lengthAdjust="spacingAndGlyphs" style="font-family:'Noto Sans CJK SC',sans-serif" stroke="#1a1a1a" stroke-width="0.15" fill="#1a1a1a">100</text>
<line x1="173.6" x2="173.6" y1="250.4" y2="252.2" stroke="#333" stroke-width="0.7"/>
<text x="173.6" y="259.6" font-size="8.1" text-anchor="middle" textLength="3.4" lengthAdjust="spacingAndGlyphs" style="font-family:'Noto Sans CJK SC',sans-serif" stroke="#1a1a1a" stroke-width="0.15" fill="#1a1a1a">0</text>
<line x1="220.25" x2="220.25" y1="250.4" y2="252.2" stroke="#333" stroke-width="0.7"/>
<text x="220.25" y="259.6" font-size="8.1" text-anchor="middle" textLength="3.4" lengthAdjust="spacingAndGlyphs" style="font-family:'Noto Sans CJK SC',sans-serif" stroke="#1a1a1a" stroke-width="0.15" fill="#1a1a1a">5</text>
<line x1="266.9" x2="266.9" y1="250.4" y2="252.2" stroke="#333" stroke-width="0.7"/>
<text x="266.9" y="259.6" font-size="8.1" text-anchor="middle" textLength="6.8" lengthAdjust="spacingAndGlyphs" style="font-family:'Noto Sans CJK SC',sans-serif" stroke="#1a1a1a" stroke-width="0.15" fill="#1a1a1a">10</text>
<text x="234.25" y="267.9" font-size="7.1" text-anchor="middle" textLength="32.2" lengthAdjust="spacingAndGlyphs" stroke="#1a1a1a" stroke-width="0.15" fill="#1a1a1a">time(sec)</text>
<text x="0" y="0" font-size="7.2" text-anchor="middle" textLength="30.5" lengthAdjust="spacing" transform="translate(157.4,201.28) rotate(-90)" stroke="#1a1a1a" stroke-width="0.15" fill="#1a1a1a"><tspan style="font-family:'Liberation Sans',sans-serif">Δ</tspan>R/R<tspan style="font-family:'Liberation Sans',sans-serif">0</tspan>(%)</text>
<text x="234.65" y="146.16" font-size="8.8" text-anchor="middle" textLength="39.15" lengthAdjust="spacingAndGlyphs" stroke="#111" stroke-width="0.15" fill="#111">impact_25</text>
<rect x="222.5" y="155.5" width="9.9" height="91" fill="none" stroke="#ff1a1a" stroke-width="1.3"/>
<rect x="272.5" y="143.4" width="19" height="87.7" fill="#fff"/>
<polyline fill="none" stroke="#ff7f0e" stroke-width="1.0" stroke-opacity="0.75" stroke-linejoin="round" stroke-linecap="round" points="272.8,230.3 273.6,229 274,200 274.5,170 275.1,150 275.4,148"/>
<polyline fill="none" stroke="#ff7f0e" stroke-width="1.25" stroke-linejoin="round" stroke-linecap="round" points="275.4,147.8 277,147.6 278.5,147 280,147.9 282,147.2 284,148.2 286,147.4 288.4,147.8"/>
<polyline fill="none" stroke="#ff7f0e" stroke-width="1.0" stroke-opacity="0.75" stroke-linejoin="round" stroke-linecap="round" points="288.6,148 288.9,155 289.2,200 289.4,229 291.2,230.3"/>
<polyline fill="none" stroke="#1f77b4" stroke-width="0.9" stroke-opacity="0.75" stroke-linejoin="round" stroke-linecap="round" points="272.8,229.8 274,229.6 276.3,226.4 277.6,201.2 278.5,190 279.4,169.3 280.4,168.2 281.2,167.5"/>
<polyline fill="none" stroke="#1f77b4" stroke-width="1.5" stroke-linejoin="round" stroke-linecap="round" points="280,168.5 281.2,167.5 282.2,168.7"/>
<polyline fill="none" stroke="#1f77b4" stroke-width="0.9" stroke-opacity="0.75" stroke-linejoin="round" stroke-linecap="round" points="282.2,168.7 282.8,170 283.1,179.6 284.4,183.2 284.8,190 286.6,227.3 288,229.1 291.2,229.3"/>
<rect x="272.5" y="143.4" width="19" height="87.7" fill="none" stroke="#404040" stroke-width="1.15"/>
<line x1="232.9" y1="198.6" x2="268.56" y2="188.47" stroke="#ff1a1a" stroke-width="1.4"/>
<polygon fill="#ff1a1a" points="272.7,187.3 269.19,190.69 267.94,186.26"/>
<line x1="320.9" x2="442.19" y1="242.4" y2="242.4" stroke="#e4e4e4" stroke-width="0.9" stroke-dasharray="2.6,1.2"/>
<line x1="320.9" x2="442.19" y1="222.97" y2="222.97" stroke="#e4e4e4" stroke-width="0.9" stroke-dasharray="2.6,1.2"/>
<line x1="320.9" x2="442.19" y1="203.55" y2="203.55" stroke="#e4e4e4" stroke-width="0.9" stroke-dasharray="2.6,1.2"/>
<line x1="320.9" x2="442.19" y1="184.12" y2="184.12" stroke="#e4e4e4" stroke-width="0.9" stroke-dasharray="2.6,1.2"/>
<line x1="320.9" x2="442.19" y1="164.7" y2="164.7" stroke="#e4e4e4" stroke-width="0.9" stroke-dasharray="2.6,1.2"/>
<line x1="320.9" x2="320.9" y1="149.16" y2="250.4" stroke="#e4e4e4" stroke-width="0.9" stroke-dasharray="2.6,1.2"/>
<line x1="367.55" x2="367.55" y1="149.16" y2="250.4" stroke="#e4e4e4" stroke-width="0.9" stroke-dasharray="2.6,1.2"/>
<line x1="414.2" x2="414.2" y1="149.16" y2="250.4" stroke="#e4e4e4" stroke-width="0.9" stroke-dasharray="2.6,1.2"/>
<line x1="321.55" x2="414.67" y1="242.4" y2="242.4" stroke="#ff7f0e" stroke-width="1.4"/>
<path d="M321.55,238.8 Q322.15,242 325.55,242.4 L321.55,242.4 Z" fill="#ff7f0e"/>
<path d="M329.65,236.9 Q330.28,241.58 333.85,242.4 L329.65,242.4 Z" fill="#ff7f0e"/>
<rect x="327.75" y="165.1" width="2.1" height="77.3" fill="#ff7f0e"/>
<rect x="327.9" y="217.54" width="1.8" height="24.86" fill="#c4741f"/>
<path d="M336.95,236.9 Q337.58,241.58 341.15,242.4 L336.95,242.4 Z" fill="#ff7f0e"/>
<rect x="335.05" y="165.1" width="2.1" height="77.3" fill="#ff7f0e"/>
<rect x="335.2" y="217.54" width="1.8" height="24.86" fill="#c4741f"/>
<path d="M343.95,236.9 Q344.58,241.58 348.15,242.4 L343.95,242.4 Z" fill="#ff7f0e"/>
<rect x="342.05" y="165.1" width="2.1" height="77.3" fill="#ff7f0e"/>
<rect x="342.2" y="217.54" width="1.8" height="24.86" fill="#c4741f"/>
<path d="M351.25,236.9 Q351.88,241.58 355.45,242.4 L351.25,242.4 Z" fill="#ff7f0e"/>
<rect x="349.35" y="165.1" width="2.1" height="77.3" fill="#ff7f0e"/>
<rect x="349.5" y="217.54" width="1.8" height="24.86" fill="#c4741f"/>
<path d="M358.45,236.9 Q359.08,241.58 362.65,242.4 L358.45,242.4 Z" fill="#ff7f0e"/>
<rect x="356.55" y="165.1" width="2.1" height="77.3" fill="#ff7f0e"/>
<rect x="356.7" y="217.54" width="1.8" height="24.86" fill="#c4741f"/>
<path d="M365.75,236.9 Q366.38,241.58 369.95,242.4 L365.75,242.4 Z" fill="#ff7f0e"/>
<rect x="363.85" y="165.1" width="2.1" height="77.3" fill="#ff7f0e"/>
<rect x="364" y="217.54" width="1.8" height="24.86" fill="#c4741f"/>
<path d="M372.95,236.9 Q373.58,241.58 377.15,242.4 L372.95,242.4 Z" fill="#ff7f0e"/>
<rect x="371.05" y="165.1" width="2.1" height="77.3" fill="#ff7f0e"/>
<rect x="371.2" y="217.54" width="1.8" height="24.86" fill="#c4741f"/>
<path d="M380.25,236.9 Q380.88,241.58 384.45,242.4 L380.25,242.4 Z" fill="#ff7f0e"/>
<rect x="378.35" y="165.1" width="2.1" height="77.3" fill="#ff7f0e"/>
<rect x="378.5" y="217.54" width="1.8" height="24.86" fill="#c4741f"/>
<path d="M387.45,236.9 Q388.08,241.58 391.65,242.4 L387.45,242.4 Z" fill="#ff7f0e"/>
<rect x="385.55" y="165.1" width="2.1" height="77.3" fill="#ff7f0e"/>
<rect x="385.7" y="217.54" width="1.8" height="24.86" fill="#c4741f"/>
<path d="M394.75,236.9 Q395.38,241.58 398.95,242.4 L394.75,242.4 Z" fill="#ff7f0e"/>
<rect x="392.85" y="165.1" width="2.1" height="77.3" fill="#ff7f0e"/>
<rect x="393" y="217.54" width="1.8" height="24.86" fill="#c4741f"/>
<path d="M402.05,236.9 Q402.68,241.58 406.25,242.4 L402.05,242.4 Z" fill="#ff7f0e"/>
<rect x="400.15" y="165.1" width="2.1" height="77.3" fill="#ff7f0e"/>
<rect x="400.3" y="217.54" width="1.8" height="24.86" fill="#c4741f"/>
<path d="M409.05,236.9 Q409.68,241.58 413.25,242.4 L409.05,242.4 Z" fill="#ff7f0e"/>
<rect x="407.15" y="165.1" width="2.1" height="77.3" fill="#ff7f0e"/>
<rect x="407.3" y="217.54" width="1.8" height="24.86" fill="#c4741f"/>
<line x1="320.7" x2="320.7" y1="149.16" y2="250.95" stroke="#8a8a8a" stroke-width="1.1"/>
<line x1="320.15" x2="442.19" y1="250.4" y2="250.4" stroke="#8a8a8a" stroke-width="1.1"/>
<line x1="319.1" x2="320.9" y1="242.4" y2="242.4" stroke="#333" stroke-width="0.7"/>
<text x="317.2" y="245.5" font-size="8.1" text-anchor="end" textLength="3.35" lengthAdjust="spacingAndGlyphs" style="font-family:'Noto Sans CJK SC',sans-serif" stroke="#1a1a1a" stroke-width="0.15" fill="#1a1a1a">0</text>
<line x1="319.1" x2="320.9" y1="222.97" y2="222.97" stroke="#333" stroke-width="0.7"/>
<text x="317.2" y="226.07" font-size="8.1" text-anchor="end" textLength="6.7" lengthAdjust="spacingAndGlyphs" style="font-family:'Noto Sans CJK SC',sans-serif" stroke="#1a1a1a" stroke-width="0.15" fill="#1a1a1a">25</text>
<line x1="319.1" x2="320.9" y1="203.55" y2="203.55" stroke="#333" stroke-width="0.7"/>
<text x="317.2" y="206.65" font-size="8.1" text-anchor="end" textLength="6.7" lengthAdjust="spacingAndGlyphs" style="font-family:'Noto Sans CJK SC',sans-serif" stroke="#1a1a1a" stroke-width="0.15" fill="#1a1a1a">50</text>
<line x1="319.1" x2="320.9" y1="184.12" y2="184.12" stroke="#333" stroke-width="0.7"/>
<text x="317.2" y="187.22" font-size="8.1" text-anchor="end" textLength="6.7" lengthAdjust="spacingAndGlyphs" style="font-family:'Noto Sans CJK SC',sans-serif" stroke="#1a1a1a" stroke-width="0.15" fill="#1a1a1a">75</text>
<line x1="319.1" x2="320.9" y1="164.7" y2="164.7" stroke="#333" stroke-width="0.7"/>
<text x="317.2" y="167.8" font-size="8.1" text-anchor="end" textLength="10.05" lengthAdjust="spacingAndGlyphs" style="font-family:'Noto Sans CJK SC',sans-serif" stroke="#1a1a1a" stroke-width="0.15" fill="#1a1a1a">100</text>
<line x1="320.9" x2="320.9" y1="250.4" y2="252.2" stroke="#333" stroke-width="0.7"/>
<text x="320.9" y="259.6" font-size="8.1" text-anchor="middle" textLength="3.4" lengthAdjust="spacingAndGlyphs" style="font-family:'Noto Sans CJK SC',sans-serif" stroke="#1a1a1a" stroke-width="0.15" fill="#1a1a1a">0</text>
<line x1="367.55" x2="367.55" y1="250.4" y2="252.2" stroke="#333" stroke-width="0.7"/>
<text x="367.55" y="259.6" font-size="8.1" text-anchor="middle" textLength="3.4" lengthAdjust="spacingAndGlyphs" style="font-family:'Noto Sans CJK SC',sans-serif" stroke="#1a1a1a" stroke-width="0.15" fill="#1a1a1a">5</text>
<line x1="414.2" x2="414.2" y1="250.4" y2="252.2" stroke="#333" stroke-width="0.7"/>
<text x="414.2" y="259.6" font-size="8.1" text-anchor="middle" textLength="6.8" lengthAdjust="spacingAndGlyphs" style="font-family:'Noto Sans CJK SC',sans-serif" stroke="#1a1a1a" stroke-width="0.15" fill="#1a1a1a">10</text>
<text x="381.54" y="267.9" font-size="7.1" text-anchor="middle" textLength="32.2" lengthAdjust="spacingAndGlyphs" stroke="#1a1a1a" stroke-width="0.15" fill="#1a1a1a">time(sec)</text>
<text x="0" y="0" font-size="7.2" text-anchor="middle" textLength="30.5" lengthAdjust="spacing" transform="translate(304.7,201.28) rotate(-90)" stroke="#1a1a1a" stroke-width="0.15" fill="#1a1a1a"><tspan style="font-family:'Liberation Sans',sans-serif">Δ</tspan>R/R<tspan style="font-family:'Liberation Sans',sans-serif">0</tspan>(%)</text>
<text x="381.94" y="146.16" font-size="8.8" text-anchor="middle" textLength="39.15" lengthAdjust="spacingAndGlyphs" stroke="#111" stroke-width="0.15" fill="#111">impact_3<tspan style="font-family:'Noto Sans CJK SC',sans-serif">0</tspan></text>
<rect x="367.5" y="157.7" width="10.7" height="90" fill="none" stroke="#ff1a1a" stroke-width="1.3"/>
<rect x="418.8" y="143.4" width="17.8" height="87.7" fill="#fff"/>
<polyline fill="none" stroke="#ff7f0e" stroke-width="1.0" stroke-opacity="0.75" stroke-linejoin="round" stroke-linecap="round" points="419.1,230.3 421.1,229.2 421.4,200 421.8,160 422.2,150 422.4,148.6"/>
<polyline fill="none" stroke="#ff7f0e" stroke-width="1.4" stroke-linejoin="round" stroke-linecap="round" points="422.4,148.3 425,148 428,148.6 431,148.3 433,149"/>
<polyline fill="none" stroke="#ff7f0e" stroke-width="1.0" stroke-opacity="0.75" stroke-linejoin="round" stroke-linecap="round" points="433.1,149 433.6,155 434,200 434.3,224.7 435.8,229.2 436.3,230.3"/>
<polyline fill="none" stroke="#1f77b4" stroke-width="0.9" stroke-opacity="0.75" stroke-linejoin="round" stroke-linecap="round" points="419.1,229.4 425.4,228.8 426.3,215 427,202.8 427.8,215 429.3,228.8 436.3,229.4"/>
<rect x="418.8" y="143.4" width="17.8" height="87.7" fill="none" stroke="#404040" stroke-width="1.15"/>
<line x1="378.4" y1="201.4" x2="421.76" y2="189.17" stroke="#ff1a1a" stroke-width="1.4"/>
<polygon fill="#ff1a1a" points="425.9,188 422.39,191.38 421.14,186.95"/>
<rect x="421.4" y="117.3" width="123.6" height="21.9" rx="1.5" fill="#fff" fill-opacity="0.8" stroke="#dcdcdc" stroke-width="0.8"/>
<line x1="423.9" x2="440.2" y1="122.6" y2="122.6" stroke="#1f77b4" stroke-width="1.5"/>
<line x1="423.9" x2="440.2" y1="133.0" y2="133.0" stroke="#ff7f0e" stroke-width="1.5"/>
<text x="445.9" y="125.6" font-size="7.7" textLength="95.6" lengthAdjust="spacingAndGlyphs" stroke="#111" stroke-width="0.15" fill="#111">Normalized Sensor1 Output</text>
<text x="445.9" y="135.9" font-size="7.7" textLength="95.6" lengthAdjust="spacingAndGlyphs" stroke="#111" stroke-width="0.15" fill="#111">Normalized Sensor2 Output</text>
<text x="268" y="299.6" font-size="11.6" text-anchor="middle" style="font-family:'Liberation Serif',serif" fill="#111">(<tspan font-weight="bold">a</tspan>)</text>
<line x1="99.7" x2="398.35" y1="511.3" y2="511.3" stroke="#e3e3e3" stroke-width="0.9"/>
<line x1="99.7" x2="398.35" y1="475.52" y2="475.52" stroke="#e3e3e3" stroke-width="0.9"/>
<line x1="99.7" x2="398.35" y1="439.74" y2="439.74" stroke="#e3e3e3" stroke-width="0.9"/>
<line x1="99.7" x2="398.35" y1="403.96" y2="403.96" stroke="#e3e3e3" stroke-width="0.9"/>
<line x1="99.7" x2="398.35" y1="368.18" y2="368.18" stroke="#e3e3e3" stroke-width="0.9"/>
<line x1="99.7" x2="398.35" y1="332.4" y2="332.4" stroke="#e3e3e3" stroke-width="0.9"/>
<line x1="99.7" x2="99.7" y1="332.4" y2="513.2" stroke="#e3e3e3" stroke-width="0.9"/>
<line x1="154" x2="154" y1="332.4" y2="513.2" stroke="#e3e3e3" stroke-width="0.9"/>
<line x1="208.3" x2="208.3" y1="332.4" y2="513.2" stroke="#e3e3e3" stroke-width="0.9"/>
<line x1="262.6" x2="262.6" y1="332.4" y2="513.2" stroke="#e3e3e3" stroke-width="0.9"/>
<line x1="316.9" x2="316.9" y1="332.4" y2="513.2" stroke="#e3e3e3" stroke-width="0.9"/>
<line x1="371.2" x2="371.2" y1="332.4" y2="513.2" stroke="#e3e3e3" stroke-width="0.9"/>
<polyline fill="none" stroke="#1f77b4" stroke-width="1.3" stroke-linejoin="round" points="105.5,511.3 141.1,511.3 141.9,509.7 142.8,480.4 144.1,464.1 144.8,456.7 145.5,452.8 147.3,454.4 148.5,509.7 149,511.3 197.1,511.3 197.9,509.7 198.7,470.7 199.8,467.4 201.1,449.5 203.6,452.8 204.4,509.7 205,511.3 253.2,511.3 253.9,509.7 254.8,475.5 256.1,460.9 257.8,443.8 259.4,443.8 260.7,509.7 261.3,511.3 309.2,511.3 309.9,477.6 311.5,459.7 313.9,392.5 316.8,430 317.5,511.3 365.8,511.3 367,470 368.5,420 370.2,373.5 372.4,420 374,511.3 398.35,511.3"/>
<polyline fill="none" stroke="#ff7f0e" stroke-width="1.3" stroke-linejoin="round" points="105.5,511.3 141.1,511.3 142.5,470 142.7,463.9 143.7,462.6 144.3,453.5 144.8,442.4 145.6,439.8 147.4,441.8 148,453.5 148.9,509.7 149.3,511.3 197.1,511.3 198.2,457.6 199.2,456 200.8,438.1 202.8,440.6 204.4,446.3 205.2,510.5 205.6,511.3 253.2,511.3 254.5,460 257,449.5 257.8,434 259.7,434 260.2,439.8 261.3,510.5 261.7,511.3 308.9,511.3 310.3,460 312.3,410 313.9,369.8 315.5,410 317.5,511.3 365.6,511.3 367,450 368.6,390 369.8,345.8 371.9,390 374.2,511.3 398.35,511.3"/>
<line x1="99.7" x2="99.7" y1="332.4" y2="513.7" stroke="#8a8a8a" stroke-width="1.1"/>
<line x1="99.2" x2="398.35" y1="513.2" y2="513.2" stroke="#8a8a8a" stroke-width="1.1"/>
<line x1="98.1" x2="99.7" y1="511.3" y2="511.3" stroke="#333" stroke-width="0.7"/>
<text x="96.7" y="513.9" font-size="7.4" text-anchor="end" textLength="3.1" lengthAdjust="spacingAndGlyphs" style="font-family:'Noto Sans CJK SC',sans-serif" stroke="#1a1a1a" stroke-width="0.15" fill="#1a1a1a">0</text>
<line x1="98.1" x2="99.7" y1="475.52" y2="475.52" stroke="#333" stroke-width="0.7"/>
<text x="96.7" y="478.12" font-size="7.4" text-anchor="end" textLength="6.2" lengthAdjust="spacingAndGlyphs" style="font-family:'Noto Sans CJK SC',sans-serif" stroke="#1a1a1a" stroke-width="0.15" fill="#1a1a1a">20</text>
<line x1="98.1" x2="99.7" y1="439.74" y2="439.74" stroke="#333" stroke-width="0.7"/>
<text x="96.7" y="442.34" font-size="7.4" text-anchor="end" textLength="6.2" lengthAdjust="spacingAndGlyphs" style="font-family:'Noto Sans CJK SC',sans-serif" stroke="#1a1a1a" stroke-width="0.15" fill="#1a1a1a">40</text>
<line x1="98.1" x2="99.7" y1="403.96" y2="403.96" stroke="#333" stroke-width="0.7"/>
<text x="96.7" y="406.56" font-size="7.4" text-anchor="end" textLength="6.2" lengthAdjust="spacingAndGlyphs" style="font-family:'Noto Sans CJK SC',sans-serif" stroke="#1a1a1a" stroke-width="0.15" fill="#1a1a1a">60</text>
<line x1="98.1" x2="99.7" y1="368.18" y2="368.18" stroke="#333" stroke-width="0.7"/>
<text x="96.7" y="370.78" font-size="7.4" text-anchor="end" textLength="6.2" lengthAdjust="spacingAndGlyphs" style="font-family:'Noto Sans CJK SC',sans-serif" stroke="#1a1a1a" stroke-width="0.15" fill="#1a1a1a">80</text>
<line x1="98.1" x2="99.7" y1="332.4" y2="332.4" stroke="#333" stroke-width="0.7"/>
<text x="96.7" y="335" font-size="7.4" text-anchor="end" textLength="9.3" lengthAdjust="spacingAndGlyphs" style="font-family:'Noto Sans CJK SC',sans-serif" stroke="#1a1a1a" stroke-width="0.15" fill="#1a1a1a">100</text>
<line x1="99.7" x2="99.7" y1="513.2" y2="514.8" stroke="#333" stroke-width="0.7"/>
<text x="99.7" y="522.1" font-size="7.6" text-anchor="middle" textLength="3.3" lengthAdjust="spacingAndGlyphs" style="font-family:'Noto Sans CJK SC',sans-serif" stroke="#1a1a1a" stroke-width="0.15" fill="#1a1a1a">0</text>
<line x1="154" x2="154" y1="513.2" y2="514.8" stroke="#333" stroke-width="0.7"/>
<text x="154" y="522.1" font-size="7.6" text-anchor="middle" textLength="3.3" lengthAdjust="spacingAndGlyphs" style="font-family:'Noto Sans CJK SC',sans-serif" stroke="#1a1a1a" stroke-width="0.15" fill="#1a1a1a">2</text>
<line x1="208.3" x2="208.3" y1="513.2" y2="514.8" stroke="#333" stroke-width="0.7"/>
<text x="208.3" y="522.1" font-size="7.6" text-anchor="middle" textLength="3.3" lengthAdjust="spacingAndGlyphs" style="font-family:'Noto Sans CJK SC',sans-serif" stroke="#1a1a1a" stroke-width="0.15" fill="#1a1a1a">4</text>
<line x1="262.6" x2="262.6" y1="513.2" y2="514.8" stroke="#333" stroke-width="0.7"/>
<text x="262.6" y="522.1" font-size="7.6" text-anchor="middle" textLength="3.3" lengthAdjust="spacingAndGlyphs" style="font-family:'Noto Sans CJK SC',sans-serif" stroke="#1a1a1a" stroke-width="0.15" fill="#1a1a1a">6</text>
<line x1="316.9" x2="316.9" y1="513.2" y2="514.8" stroke="#333" stroke-width="0.7"/>
<text x="316.9" y="522.1" font-size="7.6" text-anchor="middle" textLength="3.3" lengthAdjust="spacingAndGlyphs" style="font-family:'Noto Sans CJK SC',sans-serif" stroke="#1a1a1a" stroke-width="0.15" fill="#1a1a1a">8</text>
<line x1="371.2" x2="371.2" y1="513.2" y2="514.8" stroke="#333" stroke-width="0.7"/>
<text x="371.2" y="522.1" font-size="7.6" text-anchor="middle" textLength="6.6" lengthAdjust="spacingAndGlyphs" style="font-family:'Noto Sans CJK SC',sans-serif" stroke="#1a1a1a" stroke-width="0.15" fill="#1a1a1a">10</text>
<text x="248" y="530" font-size="6.9" text-anchor="middle" textLength="31" lengthAdjust="spacingAndGlyphs" stroke="#1a1a1a" stroke-width="0.15" fill="#1a1a1a">time(sec)</text>
<text x="0" y="0" font-size="6.9" text-anchor="middle" textLength="32" lengthAdjust="spacing" transform="translate(85.9,424.2) rotate(-90)" stroke="#1a1a1a" stroke-width="0.15" fill="#1a1a1a"><tspan style="font-family:'Liberation Sans',sans-serif">Δ</tspan>R/R<tspan style="font-family:'Liberation Sans',sans-serif">0</tspan>(%)</text>
<rect x="315.5" y="306.5" width="140.4" height="25.1" rx="1.5" fill="#fff" fill-opacity="0.8" stroke="#dcdcdc" stroke-width="0.8"/>
<line x1="318" x2="336.9" y1="312.4" y2="312.4" stroke="#1f77b4" stroke-width="1.5"/>
<line x1="318" x2="336.9" y1="323.6" y2="323.6" stroke="#ff7f0e" stroke-width="1.5"/>
<text x="343.2" y="315.5" font-size="8.73" textLength="109.1" lengthAdjust="spacingAndGlyphs" stroke="#111" stroke-width="0.15" fill="#111">Normalized Sensor1 Output</text>
<text x="343.2" y="327.6" font-size="8.73" textLength="109.1" lengthAdjust="spacingAndGlyphs" stroke="#111" stroke-width="0.15" fill="#111">Normalized Sensor2 Output</text>
<text x="268.1" y="549.2" font-size="11.8" text-anchor="middle" style="font-family:'Liberation Serif',serif" fill="#111">(<tspan font-weight="bold">b</tspan>)</text>
</svg></body></html>
